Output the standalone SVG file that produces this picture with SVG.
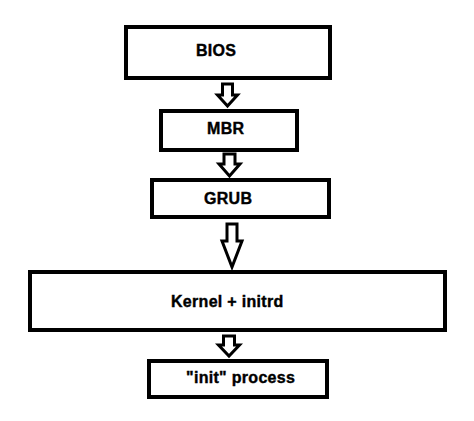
<svg xmlns="http://www.w3.org/2000/svg" width="474" height="421" viewBox="0 0 474 421">
<style>
.box{fill:#fff;stroke:#000;stroke-width:4}
.lbl{font-family:"Liberation Sans",Arial,sans-serif;font-weight:bold;font-size:16px;letter-spacing:0.3px;fill:#000;stroke:#000;stroke-width:0.4}
.arr{fill:#fff;stroke:#000;stroke-width:3;stroke-linejoin:miter}
</style>
<rect width="474" height="421" fill="#fff"/>
<g id="connectors">
<polygon class="arr" points="222.5,84 232.5,84 232.5,95 237.5,95 227.5,106 217.5,95 222.5,95"/>
<polygon class="arr" points="224,154 235,154 235,164 240,164 229.5,176 219,164 224,164"/>
<polygon class="arr" points="227,224 237,224 237,241 242,241 232,267 222,241 227,241"/>
<polygon class="arr" points="223.5,336 234.5,336 234.5,345 239.5,345 229,356 218.5,345 223.5,345"/>
</g>
<g id="bios"><rect class="box" x="126" y="27" width="204" height="51"/><text class="lbl" x="196" y="56">BIOS</text></g>
<g id="mbr"><rect class="box" x="161" y="111" width="136" height="39"/><text class="lbl" x="207" y="134">MBR</text></g>
<g id="grub"><rect class="box" x="152" y="180" width="177" height="37"/><text class="lbl" x="204" y="204">GRUB</text></g>
<g id="kernel"><rect class="box" x="30" y="272" width="415" height="58"/><text class="lbl" x="171" y="307">Kernel + initrd</text></g>
<g id="init"><rect class="box" x="149" y="361" width="178" height="36"/><text class="lbl" x="186" y="383">"init" process</text></g>
</svg>
